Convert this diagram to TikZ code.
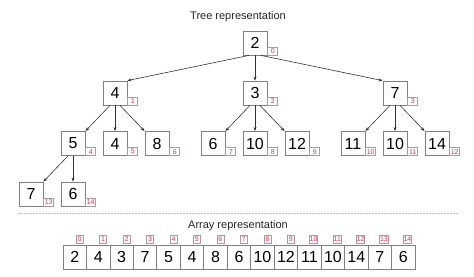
\documentclass[tikz,border=0pt]{standalone}
\usepackage{fontspec}
\setmainfont{Liberation Sans}
\usetikzlibrary{arrows.meta, positioning}
\definecolor{boxStroke}{HTML}{808080}
\definecolor{idxText}{HTML}{E0304E}
\definecolor{idxStroke}{HTML}{B09A9E}
\definecolor{edgeColor}{HTML}{333333}
\definecolor{sepColor}{HTML}{C0C0C0}

\begin{document}
\begin{tikzpicture}[
    x=1pt, y=-1pt,
    val/.style={
        rectangle, draw=boxStroke, fill=white,
        line width=0.8pt, minimum size=24pt, inner sep=0pt,
        font=\fontsize{16}{16}\selectfont
    },
    cell/.style={
        val, minimum width=23.47pt
    },
    tidx/.style={
        rectangle, draw=idxStroke, line width=0.6pt,
        minimum width=10pt, minimum height=8pt, inner sep=0.3pt,
        text=idxText, font=\fontsize{7}{7}\selectfont,
        anchor=south west
    },
    aidx/.style={
        tidx, minimum width=7pt, anchor=south east
    },
    caption/.style={
        font=\fontsize{11}{11}\selectfont, text=black!85
    },
    arrow/.style={
        -{Stealth[length=4pt,width=3pt]},
        draw=edgeColor, line width=0.6pt
    }
]
    \useasboundingbox (0,0) rectangle (474,276);

    \node[caption] (treetitle) at (238,17) {Tree representation};

    \node[val] (n0) at (255,43) {2};
    \node[val] (n1) at (115,93) {4};
    \node[val] (n2) at (255,93) {3};
    \node[val] (n3) at (395,93) {7};
    \node[val] (n4) at (73,143.5) {5};
    \node[val] (n5) at (115,143.5) {4};
    \node[val] (n6) at (157,143.5) {8};
    \node[val] (n7) at (213,143.5) {6};
    \node[val] (n8) at (255,143.5) {10};
    \node[val] (n9) at (297,143.5) {12};
    \node[val] (n10) at (353,143.5) {11};
    \node[val] (n11) at (395,143.5) {10};
    \node[val] (n12) at (437,143.5) {14};
    \node[val] (n13) at (31,194) {7};
    \node[val] (n14) at (73,194) {6};

    \foreach \i in {0,...,14}
        \node[tidx] (n\i idx) at (n\i.south east) {\i};

    \draw[arrow] ([xshift=-6pt]n0.south) -- (n1.north east);
    \draw[arrow] (n0.south) -- (n2.north);
    \draw[arrow] ([xshift=6pt]n0.south) -- (n3.north west);

    \draw[arrow] ([xshift=-5pt]n1.south) -- (n4.north east);
    \draw[arrow] (n1.south) -- (n5.north);
    \draw[arrow] ([xshift=5pt]n1.south) -- (n6.north west);

    \draw[arrow] ([xshift=-5pt]n2.south) -- (n7.north east);
    \draw[arrow] (n2.south) -- (n8.north);
    \draw[arrow] ([xshift=5pt]n2.south) -- (n9.north west);

    \draw[arrow] ([xshift=-5pt]n3.south) -- (n10.north east);
    \draw[arrow] (n3.south) -- (n11.north);
    \draw[arrow] ([xshift=5pt]n3.south) -- (n12.north west);

    \draw[arrow] ([xshift=-5pt]n4.south) -- (n13.north east);
    \draw[arrow] (n4.south) -- (n14.north);

    % separator
    \coordinate (sepL) at (18,213);
    \coordinate (sepR) at (458,213);
    \draw[sepColor, line width=0.6pt, dash pattern=on 1.5pt off 1.5pt] (sepL) -- (sepR);

    \node[caption] (arraytitle) at (238,226) {Array representation};

    \foreach \v [count=\i from 0] in {2,4,3,7,5,4,8,6,10,12,11,10,14,7,6} {
        \node[cell] (a\i) at (74.73+23.47*\i,257) {\v};
        \node[aidx] (a\i idx) at ([xshift=-3.5pt,yshift=1pt]a\i.north east) {\i};
    }
\end{tikzpicture}
\end{document}
